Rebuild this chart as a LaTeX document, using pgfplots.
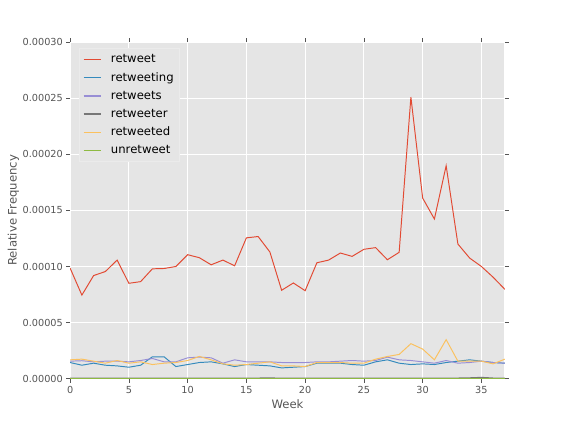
\documentclass[border=0pt]{standalone}
\usepackage{fontspec}
\setmainfont{DejaVu Sans}
\usepackage{pgfplots}
\usepackage{pgfplotstable}
\pgfplotsset{compat=1.18}
\definecolor{ggred}{HTML}{E24A33}
\definecolor{ggblue}{HTML}{348ABD}
\definecolor{ggpurple}{HTML}{988ED5}
\definecolor{gggray}{HTML}{777777}
\definecolor{ggorange}{HTML}{FBC15E}
\definecolor{gggreen}{HTML}{8EBA42}
\definecolor{ggbg}{HTML}{E5E5E5}
\definecolor{ggtext}{HTML}{555555}
\pgfplotstableread{
week retweet retweeting retweets retweeter retweeted unretweet
0  9.85e-5  1.44e-5 1.56e-5 0.05e-5 1.68e-5 0.02e-5
1  7.45e-5  1.20e-5 1.60e-5 0.05e-5 1.74e-5 0.02e-5
2  9.19e-5  1.38e-5 1.50e-5 0.05e-5 1.56e-5 0.02e-5
3  9.55e-5  1.20e-5 1.56e-5 0.05e-5 1.38e-5 0.02e-5
4  10.57e-5 1.14e-5 1.56e-5 0.05e-5 1.62e-5 0.02e-5
5  8.50e-5  1.02e-5 1.50e-5 0.05e-5 1.38e-5 0.02e-5
6  8.65e-5  1.20e-5 1.62e-5 0.05e-5 1.50e-5 0.02e-5
7  9.79e-5  1.95e-5 1.80e-5 0.06e-5 1.26e-5 0.02e-5
8  9.82e-5  1.95e-5 1.50e-5 0.06e-5 1.38e-5 0.02e-5
9  10.00e-5 1.08e-5 1.50e-5 0.05e-5 1.44e-5 0.02e-5
10 11.05e-5 1.26e-5 1.86e-5 0.05e-5 1.62e-5 0.02e-5
11 10.78e-5 1.44e-5 1.92e-5 0.05e-5 1.98e-5 0.02e-5
12 10.15e-5 1.50e-5 1.86e-5 0.05e-5 1.68e-5 0.02e-5
13 10.57e-5 1.32e-5 1.38e-5 0.05e-5 1.32e-5 0.02e-5
14 10.06e-5 1.08e-5 1.68e-5 0.05e-5 1.20e-5 0.02e-5
15 12.55e-5 1.26e-5 1.50e-5 0.06e-5 1.26e-5 0.02e-5
16 12.67e-5 1.20e-5 1.50e-5 0.06e-5 1.38e-5 0.02e-5
17 11.29e-5 1.14e-5 1.50e-5 0.07e-5 1.50e-5 0.02e-5
18 7.88e-5  0.96e-5 1.44e-5 0.05e-5 1.14e-5 0.02e-5
19 8.53e-5  1.02e-5 1.44e-5 0.05e-5 1.14e-5 0.02e-5
20 7.84e-5  1.08e-5 1.44e-5 0.05e-5 1.08e-5 0.02e-5
21 10.33e-5 1.38e-5 1.50e-5 0.05e-5 1.44e-5 0.02e-5
22 10.57e-5 1.38e-5 1.50e-5 0.05e-5 1.44e-5 0.02e-5
23 11.20e-5 1.38e-5 1.56e-5 0.05e-5 1.44e-5 0.02e-5
24 10.90e-5 1.26e-5 1.62e-5 0.05e-5 1.38e-5 0.02e-5
25 11.53e-5 1.20e-5 1.56e-5 0.05e-5 1.38e-5 0.02e-5
26 11.68e-5 1.50e-5 1.62e-5 0.05e-5 1.74e-5 0.02e-5
27 10.60e-5 1.68e-5 1.92e-5 0.05e-5 1.98e-5 0.02e-5
28 11.26e-5 1.38e-5 1.68e-5 0.05e-5 2.16e-5 0.02e-5
29 25.10e-5 1.26e-5 1.62e-5 0.06e-5 3.12e-5 0.02e-5
30 16.10e-5 1.32e-5 1.50e-5 0.06e-5 2.64e-5 0.02e-5
31 14.23e-5 1.26e-5 1.38e-5 0.05e-5 1.68e-5 0.02e-5
32 18.98e-5 1.44e-5 1.62e-5 0.06e-5 3.48e-5 0.02e-5
33 12.00e-5 1.56e-5 1.38e-5 0.06e-5 1.56e-5 0.02e-5
34 10.75e-5 1.68e-5 1.44e-5 0.08e-5 1.56e-5 0.02e-5
35 10.00e-5 1.56e-5 1.56e-5 0.12e-5 1.56e-5 0.02e-5
36 9.04e-5  1.44e-5 1.44e-5 0.06e-5 1.32e-5 0.02e-5
37 7.96e-5  1.38e-5 1.38e-5 0.05e-5 1.74e-5 0.02e-5
}\datatable
\begin{document}
\begin{tikzpicture}
\useasboundingbox (0,0) rectangle (8in,6in);
\begin{axis}[
  at={(1in,0.6in)}, anchor=south west,
  scale only axis, width=6.2in, height=4.8in,
  xmin=0, xmax=37, ymin=0, ymax=0.0003,
  xtick={0,5,10,15,20,25,30,35},
  ytick={0,0.00005,0.0001,0.00015,0.0002,0.00025,0.0003},
  scaled y ticks=false,
  yticklabel style={/pgf/number format/.cd, fixed, fixed zerofill, precision=5, assume math mode=true},
  xticklabel style={/pgf/number format/assume math mode=true},
  tick label style={font=\fontsize{10}{12}\selectfont, text=ggtext},
  label style={font=\fontsize{12}{14}\selectfont, text=ggtext},
  xlabel={Week}, ylabel={Relative Frequency},
  ylabel style={yshift=-3pt},
  tick align=outside, tick pos=both,
  major tick length=4pt,
  every tick/.style={ggtext, line width=0.6pt},
  axis line style={white, line width=1pt},
  axis background/.style={fill=ggbg},
  grid=major,
  major grid style={white, line width=0.9pt},
  legend style={at={(0,1)}, anchor=north west, xshift=9.5pt, yshift=-6.5pt,
    fill=ggbg, draw=white!92!black, line width=0.6pt,
    font=\fontsize{12}{14}\selectfont, row sep=4.6pt, column sep=8pt,
    inner xsep=3.5pt, inner ysep=4pt},
  legend cell align=left,
  legend image code/.code={\draw[line width=1.3pt,#1] (0pt,0pt) -- (17.5pt,0pt);},
]
\addplot[ggred, line width=1pt] table[x=week, y=retweet] {\datatable};
\addlegendentry{retweet}
\addplot[ggblue, line width=1pt] table[x=week, y=retweeting] {\datatable};
\addlegendentry{retweeting}
\addplot[ggpurple, line width=1pt] table[x=week, y=retweets] {\datatable};
\addlegendentry{retweets}
\addplot[gggray, line width=1pt] table[x=week, y=retweeter] {\datatable};
\addlegendentry{retweeter}
\addplot[ggorange, line width=1pt] table[x=week, y=retweeted] {\datatable};
\addlegendentry{retweeted}
\addplot[gggreen, line width=1pt] table[x=week, y=unretweet] {\datatable};
\addlegendentry{unretweet}
\end{axis}
\end{tikzpicture}
\end{document}
